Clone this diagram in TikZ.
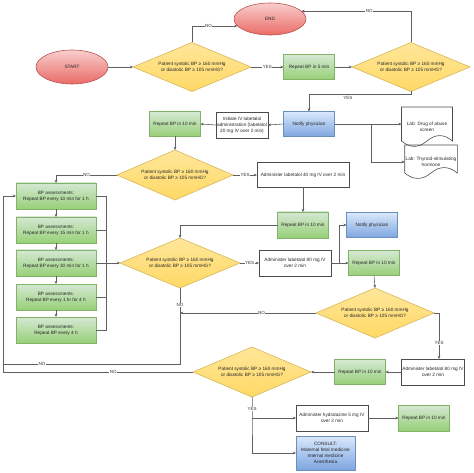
\documentclass[tikz,border=0pt]{standalone}
\usepackage{fontspec}
\setmainfont{Liberation Sans}
\usetikzlibrary{shapes.geometric,arrows.meta,calc}
\definecolor{gfillA}{HTML}{D5E8D4}\definecolor{gfillB}{HTML}{97D077}\definecolor{gline}{HTML}{82B366}
\definecolor{bfillA}{HTML}{DAE8FC}\definecolor{bfillB}{HTML}{7EA6E0}\definecolor{bline}{HTML}{6C8EBF}
\definecolor{rfillA}{HTML}{F8CECC}\definecolor{rfillB}{HTML}{EA6B66}\definecolor{rline}{HTML}{B85450}
\definecolor{yfillA}{HTML}{FFE699}\definecolor{yfillB}{HTML}{FFD966}\definecolor{yline}{HTML}{D6B656}
\definecolor{conn}{HTML}{606060}
\newcommand\docshape[1]{%
  \draw[draw=black!70,line width=0.6pt]
    (#1.north west) -- (#1.north east) -- ($(#1.south east)+(0,-6)$)
    .. controls +(-8.5,-7.2) and +(8.5,-7.2) .. ($(#1.south)+(0,-6)$)
    .. controls +(-8.5,7.2) and +(8.5,7.2) .. ($(#1.south west)+(0,-6)$) -- cycle;}
\begin{document}
\begin{tikzpicture}[x=1pt,y=-1pt,font=\fontsize{4.7}{5.8}\selectfont,
  base/.style={inner sep=1pt,outer sep=0pt,align=center,text=black!85,line width=0.6pt},
  greenbox/.style={base,rectangle,draw=gline,top color=gfillA,bottom color=gfillB,minimum width=51pt,minimum height=25pt},
  bluebox/.style={base,rectangle,draw=bline,top color=bfillA,bottom color=bfillB,minimum width=51pt,minimum height=25pt},
  whitebox/.style={base,rectangle,draw=black!70,fill=white,minimum height=26pt},
  docbox/.style={base,rectangle,minimum width=51pt},
  ell/.style={base,ellipse,draw=rline,top color=rfillA,bottom color=rfillB,minimum width=72pt},
  dia/.style={base,diamond,inner sep=0pt,aspect=2.4,draw=yline,top color=yfillA,bottom color=yfillB,minimum width=118pt,minimum height=49pt},
  bpbox/.style={greenbox,minimum width=80pt,minimum height=26pt},
  line/.style={draw=conn,line width=0.6pt},
  arr/.style={line,-{Stealth[length=3.2pt,width=2.8pt]}},
  lbl/.style={fill=white,inner sep=0.5pt,text=black!80,font=\fontsize{4.5}{5}\selectfont}]
\useasboundingbox (0,0) rectangle (474,473);

% nodes
\node[ell,minimum height=34pt] (start) at (72,67) {START};
\node[ell,minimum height=32pt] (end) at (270,19) {END};
\node[dia] (d1) at (192,67) {Patient systolic BP ≥ 160 mmHg\\or diastolic BP ≥ 105 mmHG?};
\node[greenbox] (rep5) at (309,67) {Repeat BP in 5 min};
\node[dia] (d2) at (411,67) {Patient systolic BP ≥ 160 mmHg\\or diastolic BP ≥ 105 mmHG?};
\node[bluebox] (notify1) at (309,124) {Notify physician};
\node[whitebox,minimum width=51pt] (init) at (242,125) {Initiate IV labetalol\\administration (labetalol\\20 mg IV over 2 min)};
\node[greenbox] (rep10a) at (175,124) {Repeat BP in 10 min};
\node[docbox,minimum height=40pt] (lab1) at (427,127) {Lab: Drug of abuse\\screen};
\node[docbox,minimum height=34pt] (lab2) at (431,162) {Lab: Thyroid-stimulating\\hormone};
\docshape{lab1}
\docshape{lab2}
\node[dia,aspect=2.32,minimum width=116pt,minimum height=50pt] (d3) at (175,175) {Patient systolic BP ≥ 160 mmHg\\or diastolic BP ≥ 105 mmHG?};
\node[whitebox,minimum width=92pt,minimum height=25pt] (adm40) at (303,175) {Administer labetalol 40 mg IV over 2 min};
\node[greenbox,minimum height=26pt] (rep10b) at (303,225) {Repeat BP in 10 min};
\node[bpbox] (bpA) at (56,196) {BP assessments:\\Repeat BP every 10 min for 1 h};
\node[bpbox] (bpB) at (56,230) {BP assessments:\\Repeat BP every 15 min for 1 h};
\node[bpbox] (bpC) at (56,263) {BP assessments:\\Repeat BP every 30 min for 1 h};
\node[bpbox] (bpD) at (56,297) {BP assessments:\\Repeat BP every 1 hr for 4 h};
\node[bpbox] (bpE) at (56,330) {BP assessments:\\Repeat BP every 4 h};
\node[dia,aspect=2.4,minimum width=120pt,minimum height=50pt] (d4) at (180,263) {Patient systolic BP ≥ 160 mmHg\\or diastolic BP ≥ 105 mmHG?};
\node[whitebox,minimum width=72pt] (adm80a) at (295,263) {Administer labetalol 80 mg IV\\over 2 min};
\node[bluebox] (notify2) at (372,225) {Notify physician};
\node[greenbox] (rep10c) at (374,263) {Repeat BP in 10 min};
\node[dia,aspect=2.36,minimum height=50pt] (d5) at (375,313) {Patient systolic BP ≥ 160 mmHg\\or diastolic BP ≥ 105 mmHG?};
\node[whitebox,minimum width=62pt] (adm80b) at (433,372) {Administer labetalol 80 mg IV\\over 2 min};
\node[greenbox] (rep10d) at (360,372) {Repeat BP in 10 min};
\node[dia,aspect=2.36,minimum height=50pt] (d6) at (252,372) {Patient systolic BP ≥ 160 mmHg\\or diastolic BP ≥ 105 mmHG?};
\node[whitebox,minimum width=72pt] (hydr) at (332,418) {Administer hydralazine 5 mg IV\\over 2 min};
\node[bluebox,minimum width=59pt,minimum height=34pt] (consult) at (325.5,453) {CONSULT:\\Maternal fetal medicine\\Internal medicine\\Anesthesia};
\node[greenbox,minimum height=26pt] (rep10e) at (424,418) {Repeat BP in 10 min};

% junction coordinates
\coordinate (j1) at (371,124);
\coordinate (busT) at (106,196);
\coordinate (busB) at (106,330);
\coordinate (loopB) at (3,372);
\coordinate (loopT) at (3,196);
\coordinate (n4) at (180,364);
\coordinate (n4b) at (3,364);
\coordinate (j2) at (339,263);
\coordinate (j3) at (252,418);
\coordinate (j4) at (252,453);

% connectors
\draw[arr] (start.east) -- (d1.west);
\draw[arr] (d1.north) |- node[lbl,pos=0.68]{NO} (end.192);
\draw[arr] (d1.east) -- node[lbl]{YES} (rep5.west);
\draw[arr] (rep5.east) -- (d2.west);
\draw[arr] (d2.north) |- node[lbl,pos=0.69]{NO} (end.14);
\draw[arr] (d2.south) -- ++(0,3) -| node[lbl,pos=0.31,below=0.8pt]{YES} (notify1.north);
\draw[arr] (notify1.west) -- (init.east);
\draw[arr] (init.west) -- (rep10a.east);
\draw[arr] (notify1.east) -- (notify1.east -| lab1.west);
\draw[arr] (j1) |- (lab2.west);
\draw[arr] (rep10a.south) -- (d3.north);
\draw[arr] (d3.east) -- node[lbl]{YES} (adm40.west);
\draw[arr] (d3.west) -| node[lbl,pos=0.25]{NO} (bpA.north);
\draw[arr] (adm40.south) -- (rep10b.north);
\draw[arr] (rep10b.west) -| (d4.north);
\draw[arr] (bpA.south) -- (bpB.north);
\draw[arr] (bpB.south) -- (bpC.north);
\draw[arr] (bpC.south) -- (bpD.north);
\draw[arr] (bpD.south) -- (bpE.north);
\draw[line] (bpA.east) -- (busT) -- (busB) -- (bpE.east);
\draw[line] (bpB.east) -- (bpB.east -| busT);
\draw[line] (bpD.east) -- (bpD.east -| busT);
\draw[arr] (bpC.east) -- (d4.west);
\draw[arr] (d6.west) -- node[lbl,pos=0.42]{NO} (loopB) -- (loopT) -- (bpA.west);
\draw[line] (d4.south) -- node[lbl,pos=0.22]{NO} (n4) -- node[lbl,pos=0.78]{NO} (n4b);
\draw[arr] (d4.east) -- node[lbl]{YES} (adm80a.west);
\draw[line] (adm80a.east) -- (j2);
\draw[arr] (j2) -- (rep10c.west);
\draw[arr] (j2) |- (notify2.west);
\draw[arr] (rep10c.south) -- (d5.north);
\draw[arr] (d5.west) -- node[lbl,pos=0.4]{NO} (d5.west -| n4);
\draw[arr] (d5.east) -| node[lbl,pos=0.83]{YES} ([xshift=6pt]adm80b.north);
\draw[arr] (adm80b.west) -- (rep10d.east);
\draw[arr] (rep10d.west) -- (d6.east);
\draw[line] (d6.south) -- node[lbl,pos=0.57]{YES} (j3) -- (j4);
\draw[arr] (j3) -- (hydr.west);
\draw[arr] (j4) -- (consult.west);
\draw[arr] (hydr.east) -- (rep10e.west);
\end{tikzpicture}
\end{document}
